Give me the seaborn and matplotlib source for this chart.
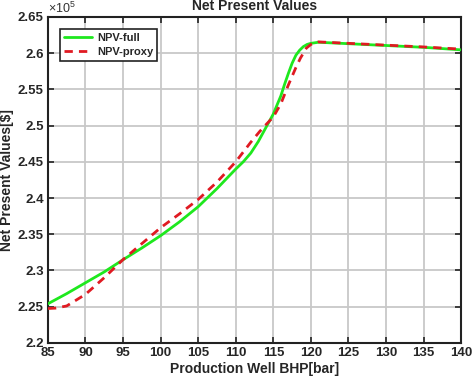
import matplotlib
matplotlib.use("Agg")
import matplotlib.pyplot as plt
import seaborn as sns
import pandas as pd
import numpy as np
from matplotlib.ticker import FuncFormatter

bhp_full = [85, 87.5, 90, 92.5, 95, 97.5, 100, 102.5, 105, 107.5, 110, 111, 112, 113, 114,
            115, 116, 116.5, 117, 117.5, 118, 118.5, 119, 119.5, 120, 121, 125, 130, 135, 140]
npv_full = [2.254, 2.268, 2.283, 2.298, 2.3148, 2.331, 2.348, 2.367, 2.388, 2.413, 2.440,
            2.450, 2.462, 2.478, 2.497, 2.516, 2.541, 2.557, 2.572, 2.586, 2.597, 2.604,
            2.609, 2.612, 2.6135, 2.615, 2.613, 2.6105, 2.608, 2.6045]
bhp_proxy = [85, 86, 87.5, 90, 92.5, 95, 97.5, 100, 102.5, 105, 107.5, 110, 112, 113.2, 114,
             115, 116, 117, 118, 118.6, 119.4, 120, 121, 125, 130, 135, 140]
npv_proxy = [2.2475, 2.248, 2.251, 2.267, 2.290, 2.315, 2.337, 2.359, 2.378, 2.398, 2.422,
             2.450, 2.477, 2.492, 2.501, 2.512, 2.530, 2.556, 2.580, 2.593, 2.607, 2.612,
             2.6155, 2.6135, 2.611, 2.6085, 2.6055]
scale = 1e5

df = pd.concat([
    pd.DataFrame({"bhp": bhp_full, "npv": np.array(npv_full) * scale, "series": "NPV-full"}),
    pd.DataFrame({"bhp": bhp_proxy, "npv": np.array(npv_proxy) * scale, "series": "NPV-proxy"}),
])

sns.set_theme(style="ticks")
plt.rcParams['font.family'] = ['Liberation Sans', 'DejaVu Sans']
plt.rcParams['mathtext.fontset'] = 'custom'
plt.rcParams['mathtext.rm'] = 'Liberation Sans'

fig = plt.figure(figsize=(4.74, 3.84), dpi=100)
ax = fig.add_axes([0.101, 0.107, 0.872, 0.849])

sns.lineplot(data=df, x="bhp", y="npv", hue="series", style="series",
             palette={"NPV-full": "#1ee81e", "NPV-proxy": "#e01a22"},
             dashes={"NPV-full": "", "NPV-proxy": (3, 2.2)},
             linewidth=2, ax=ax, sort=False, estimator=None, zorder=3)

ax.set_xlim(85, 140)
ax.set_ylim(2.2e5, 2.65e5)
ax.set_xticks(np.arange(85, 141, 5))
ax.set_yticks(np.arange(2.2e5, 2.6501e5, 0.05e5))
ax.yaxis.set_major_formatter(FuncFormatter(lambda v, p: f"{v / scale:g}"))
ax.text(0.0, 1.004, r"$\times10^{5}$", transform=ax.transAxes, ha="left", va="bottom",
        fontsize=9, color="#333333")

for s in ax.spines.values():
    s.set_color("#222222")
    s.set_linewidth(1.5)
ax.tick_params(direction="in", top=True, right=True, bottom=True, left=True,
               length=4, width=1.2, labelsize=9.5, color="#222222", pad=3)
for lab in ax.get_xticklabels() + ax.get_yticklabels():
    lab.set_fontweight("bold")
ax.set_axisbelow("line")
ax.grid(True, which="major", axis="both", color="#c8c8c8", linewidth=1.3, linestyle="-",
        alpha=1.0)

ax.set_xlabel("Production Well BHP[bar]", fontsize=10, fontweight="bold", labelpad=2)
ax.set_ylabel("Net Present Values[\\$]", fontsize=10, fontweight="bold", labelpad=3)
ax.set_title("Net Present Values", fontsize=10, fontweight="bold", pad=5)

leg = ax.legend(loc="upper left", frameon=True, fancybox=False,
                prop={"weight": "bold", "size": 8}, handlelength=2.5,
                handletextpad=0.45, labelspacing=0.35, borderpad=0.4,
                borderaxespad=1.05, edgecolor="#222222")
leg.get_frame().set_linewidth(1.2)
leg.get_frame().set_alpha(1)
leg.set_title(None)
leg.set_zorder(5)

fig.savefig("out.png", dpi=100)
